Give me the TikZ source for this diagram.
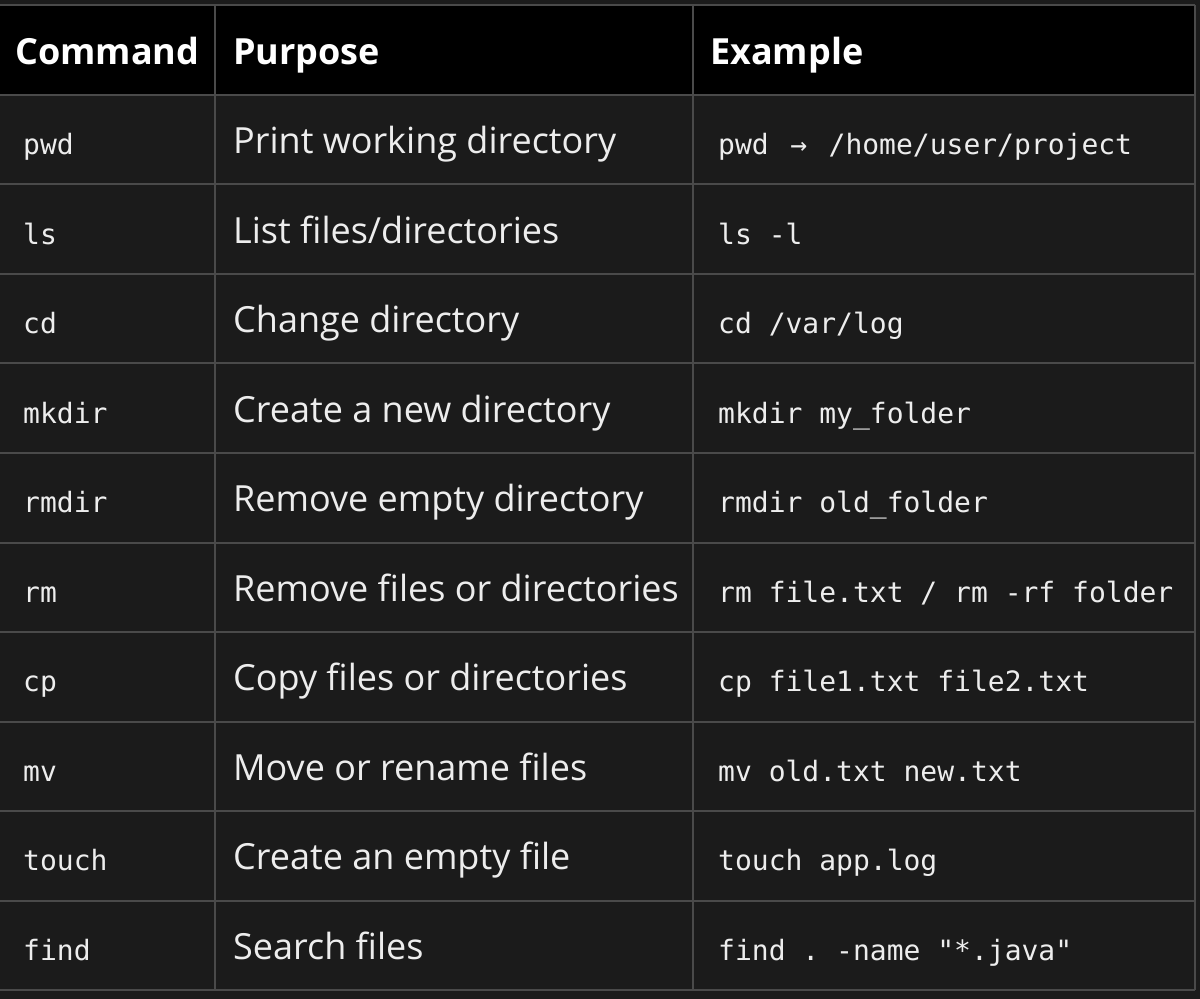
\documentclass[tikz,border=0pt]{standalone}
\usepackage{fontspec}
\setmainfont{Open Sans}
\setmonofont{DejaVu Sans Mono}
\usetikzlibrary{positioning}
\definecolor{bgdark}{HTML}{1B1B1B}
\definecolor{headbg}{HTML}{000000}
\definecolor{gridline}{HTML}{4A4A4A}
\definecolor{celltext}{HTML}{EDEDED}
\tikzset{
  cmdcell/.style={anchor=base west, inner sep=0pt, text=celltext, font=\ttfamily\fontsize{28}{31}\selectfont},
  purpcell/.style={anchor=base west, inner sep=0pt, text=celltext, font=\fontsize{36}{40}\selectfont},
  headcell/.style={anchor=base west, inner sep=0pt, text=white, font=\bfseries\fontsize{36}{40}\selectfont},
}
\begin{document}
\begin{tikzpicture}[x=1pt, y=-1pt]
\useasboundingbox (0,0) rectangle (1200,999);
\fill[bgdark] (0,0) rectangle (1200,999);
\fill[headbg] (0,5) rectangle (1195,95);
% grid
\foreach \yy in {5,95,184,274,363,453,543,632,722,811,901,990}
  \draw[gridline, line width=1.5pt] (0,\yy) -- (1195,\yy);
\foreach \xx in {215,693,1195}
  \draw[gridline, line width=1.5pt] (\xx,5) -- (\xx,990);
% header
\node[headcell] (hcmd) at (15,64) {Command};
\node[headcell] (hpurp) at (233,64) {Purpose};
\node[headcell] (hex) at (710,64) {Example};
% rows
\foreach \cmd/\purp/\ex [count=\i] in {
  pwd/Print working directory/{pwd \,→\, /home/user/project},
  ls/List files\slash directories/{ls -l},
  cd/Change directory/{cd /var/log},
  mkdir/Create a new directory/{mkdir my\_folder},
  rmdir/Remove empty directory/{rmdir old\_folder},
  rm/Remove files or directories/{rm file.txt / rm -rf folder},
  cp/Copy files or directories/{cp file1.txt file2.txt},
  mv/Move or rename files/{mv old.txt new.txt},
  touch/Create an empty file/{touch app.log},
  find/Search files/{find . -name "*.java"}} {
  \pgfmathsetmacro{\yc}{95+89.5*(\i-0.5)}
  \node[cmdcell] (cmd\i) at (23,\yc+15) {\cmd};
  \node[purpcell] (purp\i) at (233,\yc+14) {\purp};
  \node[cmdcell] (ex\i) at (718,\yc+15) {\ex};
}
\end{tikzpicture}
\end{document}
